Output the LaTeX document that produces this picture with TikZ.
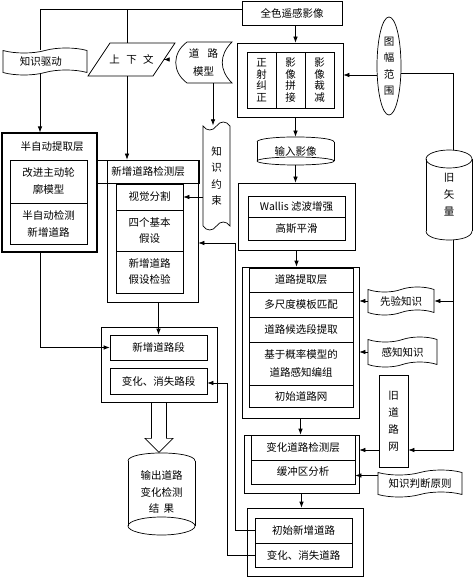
\documentclass[tikz,border=0pt]{standalone}
\usepackage{fontspec}
\setmainfont{Noto Sans CJK SC}
\usetikzlibrary{arrows.meta,shapes.geometric,shapes.symbols}
\begin{document}
\begin{tikzpicture}[x=1pt,y=-1pt,
  font=\fontsize{10.5}{13}\selectfont,
  line width=0.7pt,
  >={Latex[length=6pt,width=4.5pt]},
  bx/.style={draw, rectangle, inner sep=0pt, align=center},
  ph/.style={rectangle, inner sep=0pt, align=center},
  tp/.style={draw, tape, inner sep=0pt, align=center, tape bend height=5pt},
  vt/.style={font=\fontsize{10.5}{#1}\selectfont},
]
\useasboundingbox (0,0) rectangle (474,577);

% ---------- middle column ----------
\node[bx, minimum width=100pt, minimum height=24pt] (img) at (292,13) {全色遥感影像};

\node[bx, minimum width=106pt, minimum height=74pt] (pre) at (290,80) {};
\node[bx, minimum width=29pt, minimum height=56pt, vt=11.5] (p1) at (261.5,80) {正\\射\\纠\\正};
\node[bx, minimum width=29pt, minimum height=56pt, vt=11.5] (p2) at (290.5,80) {影\\像\\拼\\接};
\node[bx, minimum width=29pt, minimum height=56pt, vt=11.5] (p3) at (319.5,80) {影\\像\\裁\\减};

\node[draw, ellipse, inner sep=0pt, minimum width=24pt, minimum height=98pt, align=center, vt=16.5] (fr) at (389,66) {图\\幅\\范\\围};

\node[ph, minimum width=77pt, minimum height=28pt] (inp) at (295.5,151) {输入影像};
\draw (257,142) -- (257,161) (334,142) -- (334,161);
\draw (257,142) .. controls (257,135.3) and (334,135.3) .. (334,142);
\draw (295.5,161) ellipse [x radius=38.5, y radius=4];

\node[bx, minimum width=117pt, minimum height=67pt] (wal) at (296.5,216.5) {};
\node[bx, minimum width=97pt, minimum height=21pt] (w1) at (296.5,206.5) {Wallis 滤波增强};
\node[bx, minimum width=97pt, minimum height=23pt] (w2) at (296.5,228.5) {高斯平滑};

\node[bx, minimum width=117pt, minimum height=151pt] (ext) at (300.5,342.5) {};
\node[bx, minimum width=104pt, minimum height=24pt] (e1) at (301,280) {道路提取层};
\node[bx, minimum width=104pt, minimum height=25pt] (e2) at (301,304.5) {多尺度模板匹配};
\node[bx, minimum width=104pt, minimum height=25pt] (e3) at (301,329.5) {道路候选段提取};
\node[bx, minimum width=104pt, minimum height=43pt, vt=18] (e4) at (301,363.5) {基于概率模型的\\道路感知编组};
\node[bx, minimum width=104pt, minimum height=22pt] (e5) at (301,396) {初始道路网};

\node[bx, minimum width=115pt, minimum height=58pt] (chg) at (301.5,464) {};
\node[bx, minimum width=104pt, minimum height=25pt] (c1) at (303,447.5) {变化道路检测层};
\node[bx, minimum width=104pt, minimum height=24pt] (buf) at (303,472) {缓冲区分析};

\node[bx, minimum width=116pt, minimum height=68pt] (fin) at (305,542) {};
\node[bx, minimum width=97pt, minimum height=25pt] (fn1) at (303.5,530.5) {初始新增道路};
\node[bx, minimum width=97pt, minimum height=24pt] (fn2) at (303.5,555) {变化、消失道路};

% ---------- right column ----------
\node[ph, minimum width=46pt, minimum height=90pt, vt=17] (ov) at (449,195) {旧\\矢\\量};
\draw (449,159) ellipse [x radius=23, y radius=9];
\draw (426,159) -- (426,231) (472,159) -- (472,231);
\draw (426,231) .. controls (426,243) and (472,243) .. (472,231);

\node[tp, minimum width=66pt, minimum height=28pt] (pk) at (401,301) {先验知识};
\node[tp, minimum width=69pt, minimum height=30pt] (sk) at (402.5,352) {感知知识};
\node[bx, minimum width=29pt, minimum height=92pt, vt=17] (orn) at (393.5,421) {旧\\道\\路\\网};
\node[tp, minimum width=84pt, minimum height=27pt] (kj) at (420,483.5) {知识判断原则};

% ---------- left part ----------
\node[tp, minimum width=84pt, minimum height=27pt] (kd) at (45,61.5) {知识驱动\hspace{0.8em}};

\node[ph, minimum width=87pt, minimum height=33pt] (ctx) at (131.5,59.5) {上\hspace{0.6em}下\hspace{0.6em}文};
\draw (110,43) -- (175,43) -- (153,76) -- (88,76) -- cycle;

\node[ph, minimum width=57pt, minimum height=41pt, vt=18] (dm) at (203.5,62.5) {道\hspace{0.8em}路\\模型};
\draw (187,42) -- (232,42) .. controls (219,55) and (219,70) .. (232,83) -- (187,83) .. controls (172,72) and (172,53) .. cycle;

\node[tp, tape bend height=8pt, minimum width=27pt, minimum height=108pt, vt=16.5] (kc) at (216.5,176) {知\\识\\约\\束};

\node[draw, line width=1.1pt, minimum width=95pt, minimum height=119pt] (semi) at (49.5,192.5) {};
\node[ph] (semit) at (52,147) {半自动提取层};
\node[bx, minimum width=77pt, minimum height=43pt, vt=17] (s1) at (48.5,181.5) {改进主动轮\\廓模型};
\node[bx, minimum width=77pt, minimum height=41pt, vt=17] (s2) at (48.5,223.5) {半自动检测\\新增道路};

\node[bx, minimum width=91pt, minimum height=142pt] (det) at (152.5,231) {};
\node[bx, minimum width=102pt, minimum height=23pt] (dett) at (148,171.5) {新增道路检测层};
\node[bx, minimum width=67pt, minimum height=26pt] (vs) at (149.5,197) {视觉分割};
\node[bx, minimum width=67pt, minimum height=41pt, vt=16] (d2) at (149.5,230.5) {四个基本\\假设};
\node[bx, minimum width=67pt, minimum height=42pt, vt=16] (d3) at (149.5,272) {新增道路\\假设检验};

\node[bx, minimum width=116pt, minimum height=75pt] (out) at (159,364.5) {};
\node[bx, minimum width=97pt, minimum height=25pt] (nr) at (158.5,347.5) {新增道路段};
\node[bx, minimum width=97pt, minimum height=26pt] (ns) at (158.5,381) {变化、消失路段};

\node[ph, minimum width=67pt, minimum height=64pt, vt=16.5] (oc) at (161.5,492) {输出道路\\变化检测\\结\hspace{0.4em}果};
\draw (128,461) -- (128,526) (195,461) -- (195,526);
\draw (128,461) .. controls (128,450.3) and (195,450.3) .. (195,461);
\draw (161.5,526) ellipse [x radius=33.5, y radius=9];

\coordinate (ra) at (235,243);
\coordinate (rb) at (227,383);

% ---------- connectors ----------
\draw ([yshift=4pt]img.west) -| ([xshift=-5pt]kd.north);
\draw ([yshift=4pt]img.west) -| ([xshift=-4.5pt]ctx.north);
\draw[->] ([xshift=-5pt]kd.south) -- ([xshift=-5pt]kd.south |- semi.north);
\draw[->] ([xshift=-4.5pt]ctx.south) -- ([xshift=-4.5pt]ctx.south |- det.north);
\draw[->] ([xshift=-11pt]ctx.east) -- ([xshift=-11pt]ctx.east -| dm.west);
\draw[->] ([xshift=9.5pt]dm.south) -- ([xshift=9.5pt]dm.south |- kc.north);
\draw[->] (kc.west |- vs.east) -- (vs.east);

\draw[->] ([yshift=5pt]pre.east -| fr.west) -- ([yshift=5pt]pre.east);
\draw ([yshift=-7pt]fr.east) -| ([xshift=4pt]ov.north);
\draw[->] ([xshift=4pt]ov.south) |- (pk.east);
\draw[->] ([xshift=4pt]ov.south) |- ([yshift=-29pt]orn.east);
\draw[->] (pk.west) -- (pk.west -| ext.east);
\draw[->] (sk.west) -- (sk.west -| ext.east);
\draw[->] ([yshift=-29pt]orn.west) -- ([yshift=-29pt]orn.west -| chg.east);
\draw[->] ([yshift=8pt]kj.west) -- ([yshift=8pt]kj.west -| buf.east);

\draw[->] (inp.north |- img.south) -- (inp.north |- pre.north);
\draw[->] (inp.north |- pre.south) -- (inp.north);
\draw[->] (inp.south) -- (inp.south |- wal.north);
\draw[->] (wal.south) -- (wal.south |- ext.north);
\draw[->] (ext.south) -- (ext.south |- chg.north);
\draw[->] (chg.south) -- (chg.south |- fin.north);

\draw[->] (nr.north |- det.south) -- (nr.north);
\draw[->] ([xshift=-9.5pt]semi.south) |- (nr.west);
\draw[->] (fn1.west) -| (ra) -- (ra -| det.east);
\draw[->] (fn2.west) -| (rb) -- (rb -| ns.east);

\draw ([xshift=-7.5pt]out.south) -- ++(0,36) -- ++(-6.5,0) -- ++(14,14) -- ++(14,-14) -- ++(-6.5,0) -- ++(0,-36);
\end{tikzpicture}
\end{document}
